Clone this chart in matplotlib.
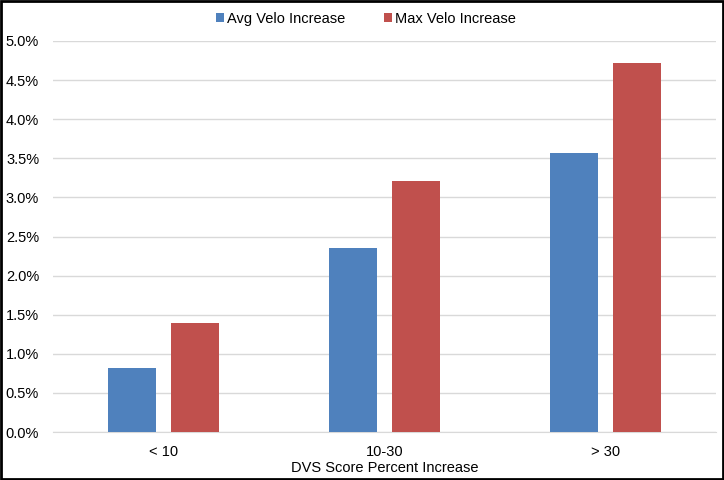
import matplotlib
matplotlib.use("Agg")
import matplotlib.pyplot as plt
import numpy as np
from matplotlib.ticker import PercentFormatter
from matplotlib.patches import Rectangle

plt.rcParams['font.family'] = ['Liberation Sans', 'DejaVu Sans']

categories = ['< 10', '10-30', '> 30']
avg_velo = [0.82, 2.35, 3.57]
max_velo = [1.39, 3.21, 4.72]

fig = plt.figure(figsize=(7.24, 4.8), dpi=100)
ax = fig.add_axes([53/724, (480-432)/480, 663/724, (432-41)/480])

x = np.arange(len(categories))
w = 0.22
off = 0.1425
ax.bar(x - off, avg_velo, w, color='#4F81BD', label='Avg Velo Increase', zorder=3)
ax.bar(x + off, max_velo, w, color='#C0504D', label='Max Velo Increase', zorder=3)

ax.set_xlim(-0.5, 2.5)
ax.set_ylim(0, 5.0)
ax.set_yticks(np.arange(0, 5.01, 0.5))
ax.yaxis.set_major_formatter(PercentFormatter(decimals=1))
ax.set_xticks(x)
ax.set_xticklabels(categories)
ax.grid(axis='y', color='#D9D9D9', linewidth=1, zorder=0)
for s in ['top', 'right', 'left']:
    ax.spines[s].set_visible(False)
ax.spines['bottom'].set_color('#D9D9D9')
ax.tick_params(axis='both', length=0, labelsize=10.5, colors='black')
ax.tick_params(axis='x', pad=9)
ax.tick_params(axis='y', pad=10)
ax.set_xlabel('DVS Score Percent Increase', fontsize=10.5, labelpad=2)

ax.legend(loc='upper center', bbox_to_anchor=(0.472, 1.108), ncol=2, frameon=False,
          fontsize=10.5, handlelength=0.6, handleheight=0.6, handletextpad=0.2,
          columnspacing=2.6)

fig.patches.append(Rectangle((0.002, 0.003), 0.996, 0.994, transform=fig.transFigure,
                             fill=False, edgecolor='black', linewidth=2))

fig.savefig('out.png', dpi=100)
